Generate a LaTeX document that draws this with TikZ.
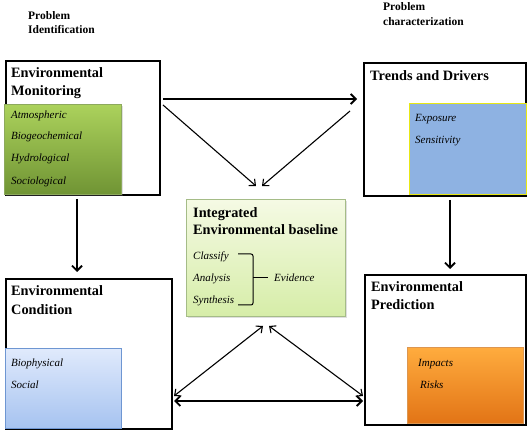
\documentclass[tikz,border=0pt]{standalone}
\usepackage{fontspec}
\setmainfont{Liberation Serif}
\usetikzlibrary{arrows.meta,shadows}
\definecolor{gTop}{RGB}{172,210,92}
\definecolor{gBot}{RGB}{112,148,52}
\definecolor{tBlue}{RGB}{142,178,226}
\definecolor{tYel}{RGB}{232,232,20}
\definecolor{cTop}{RGB}{224,234,252}
\definecolor{cBot}{RGB}{166,195,240}
\definecolor{cBord}{RGB}{110,150,210}
\definecolor{oTop}{RGB}{255,172,62}
\definecolor{oBot}{RGB}{226,116,22}
\definecolor{oBord}{RGB}{220,150,80}
\definecolor{iTop}{RGB}{245,250,228}
\definecolor{iBot}{RGB}{214,237,168}
\definecolor{iBord}{RGB}{165,188,135}
\tikzset{
  outer/.style={draw=black,line width=1.6pt,fill=white,inner sep=0,anchor=north west},
  inbox/.style={inner sep=0,anchor=north west},
  ttl/.style={font=\fontsize{14.3}{16}\selectfont\bfseries,anchor=base west,inner sep=0},
  itm/.style={font=\fontsize{11}{12}\selectfont\itshape,anchor=base west,inner sep=0},
  hdr/.style={font=\fontsize{11.5}{12}\selectfont\bfseries,anchor=base west,inner sep=0},
  thick arrow/.style={line width=1.8pt,-{Straight Barb[length=5pt,width=10pt]}},
  thin arrow/.style={line width=1.1pt,-{Straight Barb[length=5pt,width=9pt]}},
  dbl arrow/.style={line width=1.1pt,{Straight Barb[length=5pt,width=9pt]}-{Straight Barb[length=5pt,width=9pt]}},
  dblthick/.style={line width=1.8pt,{Straight Barb[length=5pt,width=10pt]}-{Straight Barb[length=5pt,width=10pt]}},
}
\begin{document}
\begin{tikzpicture}[x=1pt,y=-1pt]
\useasboundingbox (0,0) rectangle (530,430);
% headers
\node[hdr] (h1a) at (28,20) {Problem};
\node[hdr] (h1b) at (28,34) {Identification};
\node[hdr] (h2a) at (383,11) {Problem};
\node[hdr] (h2b) at (383,26) {characterization};

% Environmental Monitoring
\node[outer,minimum width=154pt,minimum height=134pt] (mon) at (5,60) {};
\node[inbox,minimum width=117pt,minimum height=90pt,top color=gTop,bottom color=gBot,draw=gBot!80!white,line width=0.4pt,drop shadow={opacity=0.25,shadow xshift=1.5pt,shadow yshift=-1.5pt}] (monin) at (4,104) {};
\node[ttl] (mont1) at (11,78) {Environmental};
\node[ttl] (mont2) at (11,96) {Monitoring};
\node[itm] (m1) at (11,119) {Atmospheric};
\node[itm] (m2) at (11,140) {Biogeochemical};
\node[itm] (m3) at (11,162) {Hydrological};
\node[itm] (m4) at (11,185) {Sociological};

% Trends and Drivers
\node[outer,minimum width=162pt,minimum height=133pt] (trd) at (363,62) {};
\node[inbox,minimum width=117pt,minimum height=91pt,fill=tBlue,draw=tYel,line width=0.8pt] (trdin) at (409,103) {};
\node[ttl] (trdt) at (370,81) {Trends and Drivers};
\node[itm] (t1) at (415,122) {Exposure};
\node[itm] (t2) at (415,144) {Sensitivity};

% Environmental Condition
\node[outer,minimum width=166pt,minimum height=150pt] (cnd) at (5,278) {};
\node[inbox,minimum width=116pt,minimum height=80pt,top color=cTop,bottom color=cBot,draw=cBord,line width=0.5pt] (cndin) at (5,348) {};
\node[ttl] (cndt1) at (11,296) {Environmental};
\node[ttl] (cndt2) at (11,314) {Condition};
\node[itm] (c1) at (11,366) {Biophysical};
\node[itm] (c2) at (11,388) {Social};

% Environmental Prediction
\node[outer,minimum width=161pt,minimum height=150pt] (prd) at (364,274) {};
\node[inbox,minimum width=116pt,minimum height=76pt,top color=oTop,bottom color=oBot,draw=oBord,line width=0.5pt] (prdin) at (407,347) {};
\node[ttl] (prdt1) at (371,291) {Environmental};
\node[ttl] (prdt2) at (371,309) {Prediction};
\node[itm] (p1) at (418,366) {Impacts};
\node[itm] (p2) at (420,388) {Risks};

% Integrated baseline
\node[inbox,minimum width=159pt,minimum height=117pt,top color=iTop,bottom color=iBot,draw=iBord,line width=0.6pt,drop shadow={opacity=0.25,shadow xshift=1.5pt,shadow yshift=-1.5pt}] (ieb) at (186,199) {};
\node[ttl] (iebt1) at (193,218) {Integrated};
\node[ttl] (iebt2) at (193,235) {Environmental baseline};
\node[itm] (e1) at (193,260) {Classify};
\node[itm] (e2) at (193,282) {Analysis};
\node[itm] (e3) at (193,304) {Synthesis};
\node[itm] (ev) at (274,282) {Evidence};
\coordinate (bt) at (238,254);
\coordinate (bb) at (238,305);
\coordinate (bm) at (253,278);
\draw[line width=1pt,rounded corners=2pt] (bt) -- (253,254) -- (253,305) -- (bb);
\draw[line width=1pt] (bm) -- (268,278);

% connector coordinates
\coordinate (a1s) at (163,99);
\coordinate (a1e) at (357,99);
\coordinate (a2s) at (163,105);
\coordinate (a2e) at (256,186);
\coordinate (a3s) at (350,111);
\coordinate (a3e) at (262,186);
\coordinate (a4s) at (77,199);
\coordinate (a4e) at (77,272);
\coordinate (a5s) at (450,200);
\coordinate (a5e) at (450,269);
\coordinate (a6s) at (174,401);
\coordinate (a6e) at (363,401);
\coordinate (a7s) at (174,396);
\coordinate (a7e) at (263,326);
\coordinate (a8s) at (269,326);
\coordinate (a8e) at (363,396);

\draw[thick arrow] (a1s) -- (a1e);
\draw[thin arrow] (a2s) -- (a2e);
\draw[thin arrow] (a3s) -- (a3e);
\draw[thick arrow] (a4s) -- (a4e);
\draw[thick arrow] (a5s) -- (a5e);
\draw[dblthick] (a6s) -- (a6e);
\draw[dbl arrow] (a7s) -- (a7e);
\draw[dbl arrow] (a8s) -- (a8e);
\end{tikzpicture}
\end{document}
